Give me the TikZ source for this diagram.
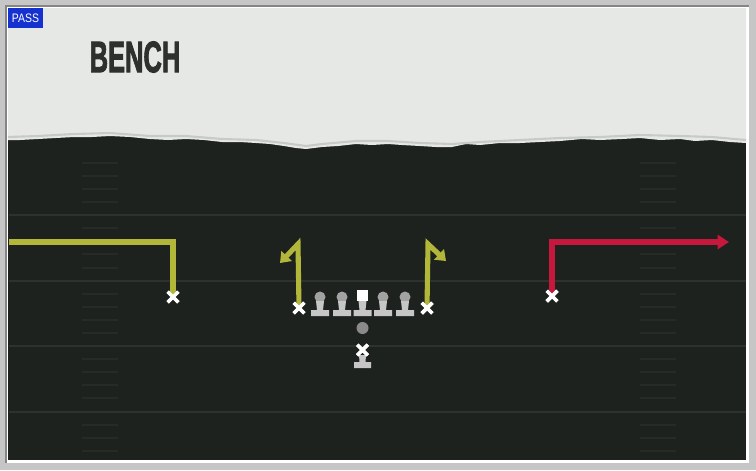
\documentclass[tikz,border=0pt]{standalone}
\usepackage{fontspec}
\setmainfont{Liberation Sans}
\newfontfamily\benchfont{Liberation Sans}[BoldFeatures={FakeBold=2.5}]
\usetikzlibrary{shapes.misc,arrows.meta}
\definecolor{paper}{HTML}{E6E8E6}
\definecolor{paperedge}{HTML}{C8CAC8}
\definecolor{turf}{HTML}{1E221F}
\definecolor{yardline}{HTML}{2D322D}
\definecolor{hashline}{HTML}{272B27}
\definecolor{route}{HTML}{B2B73A}
\definecolor{hotroute}{HTML}{C6173C}
\definecolor{passblue}{HTML}{1531CF}
\definecolor{outerframe}{HTML}{C6C6C6}
\definecolor{innerframe}{HTML}{858585}
\definecolor{benchink}{HTML}{2E302E}
\definecolor{headgray}{HTML}{A2A2A2}
\definecolor{bodygray}{HTML}{C6C6C6}

\tikzset{
  xmark/.style={cross out,draw=white,line width=2pt,minimum size=0.14cm,inner sep=0pt},
  routeline/.style={route,line width=2.9pt},
  hotline/.style={hotroute,line width=2.9pt},
  passtag/.style={fill=passblue,text=white,minimum width=0.7cm,minimum height=0.4cm,
    inner sep=0pt,font=\fontsize{7}{7}\selectfont},
}

\begin{document}
\begin{tikzpicture}[x=0.02cm,y=-0.02cm]
      \useasboundingbox (0,0) rectangle (756,470);
      \fill[outerframe] (0,0) rectangle (756,470);
      \fill[innerframe] (5,5) rectangle (749,463);
      \fill[white] (7,7) rectangle (749,463);
      \fill[turf] (8,8) rectangle (746,460);
      \begin{scope}
        \foreach \y in {215,281,346,412}
        \draw[yardline,line width=0.8pt] (9,\y) -- (746,\y);
        \foreach \y in {163,176,189,202,228,241,254,268,294,307,320,333,359,372,385,398,425,438,451} {
          \draw[hashline,line width=0.7pt] (82,\y) -- (118,\y);
          \draw[hashline,line width=0.7pt] (640,\y) -- (676,\y);
        }
      \end{scope}
      \fill[paper] (8,8) -- (746,8) -- (746,143) -- (730,142) -- (712,140) -- (695,141)
        -- (680,139) -- (660,140) -- (640,138) -- (622,139) -- (600,140) -- (582,139)
        -- (560,141) -- (540,142) -- (520,143) -- (500,143) -- (480,145) -- (466,144)
        -- (452,147) -- (436,147) -- (420,146) -- (402,145) -- (388,144) -- (372,145)
        -- (356,144) -- (338,146) -- (322,147) -- (306,149) -- (296,148) -- (284,146)
        -- (270,144) -- (256,143) -- (240,142) -- (222,142) -- (204,140) -- (186,139)
        -- (168,140) -- (150,139) -- (130,137) -- (110,136) -- (92,137) -- (74,137)
        -- (56,138) -- (38,139) -- (20,140) -- (8,140) -- cycle;
      \draw[paperedge,line width=1.2pt] (746,140) -- (712,137) -- (680,136) -- (640,135)
        -- (600,137) -- (560,138) -- (520,140) -- (480,142) -- (452,144) -- (420,143)
        -- (388,141) -- (356,141) -- (322,144) -- (306,146) -- (284,143) -- (256,140)
        -- (222,139) -- (186,136) -- (150,136) -- (110,133) -- (74,134) -- (38,136) -- (8,137);
      \node[passtag] (tag) at (25.5,18) {\scalebox{0.85}[1]{PASS}};
      \node[text=benchink,font=\benchfont\bfseries\fontsize{25}{25}\selectfont] (title) at (135,57)
        {\scalebox{0.58}[1]{BENCH}};
      % linemen
      \foreach \x in {320,342,383,405} {
        \fill[headgray] (\x,297) circle (5.5);
      }
      \fill[white] (357,290) rectangle (368,301);
      \foreach \x in {320,342,362.5,383,405} {
        \fill[bodygray] (\x-4,301) -- (\x+4,301) -- (\x+3,310) -- (\x+9,310)
          -- (\x+9,316) -- (\x-9,316) -- (\x-9,310) -- (\x-3,310) -- cycle;
      }
      \fill[headgray!85!black] (362.5,328) circle (6);
      \fill[bodygray] (359,355) -- (366,355) -- (365.5,362) -- (371,362)
        -- (371,368) -- (354,368) -- (354,362) -- (359.5,362) -- cycle;
      % routes
      \coordinate (outL) at (173,242);
      \coordinate (outLend) at (9,242);
      \coordinate (slotL) at (298,244);
      \coordinate (slotLend) at (280,263);
      \coordinate (slotR) at (428,244);
      \coordinate (slotRend) at (446,261);
      \coordinate (outR) at (552,242);
      \coordinate (outRend) at (729,242);
      \node[xmark] (wrL) at (173,297) {};
      \node[xmark] (slL) at (299,308) {};
      \node[xmark] (slR) at (427,308) {};
      \node[xmark] (wrR) at (552,296) {};
      \node[xmark] (qb) at (362.5,350) {};
      \draw[routeline] (wrL.center) -- (outL) -- (outLend);
      \draw[routeline,-{Triangle[length=5.5pt,width=8pt]}] (slL.center) -- (slotL) -- (slotLend);
      \draw[routeline,-{Triangle[length=5.5pt,width=8pt]}] (slR.center) -- (slotR) -- (slotRend);
      \draw[hotline,-{Triangle[length=6.5pt,width=8pt]}] (wrR.center) -- (outR) -- (outRend);
      \foreach \p in {wrL,slL,slR,wrR,qb}
      \node[xmark] at (\p) {};
    \end{tikzpicture}
\end{document}
